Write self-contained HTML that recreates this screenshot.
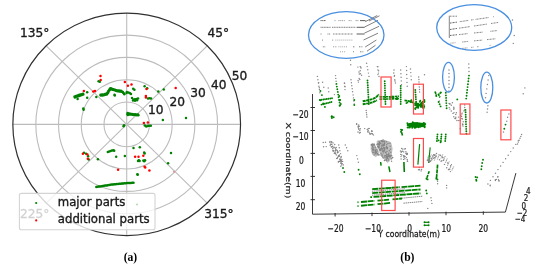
<!DOCTYPE html>
<html><head><meta charset="utf-8"><style>
html,body{margin:0;padding:0;background:#fff;width:550px;height:268px;overflow:hidden}
svg{display:block;filter:blur(0.3px)}
</style></head><body>
<svg width="550" height="268" viewBox="0 0 550 268">
<g id="polar">
<ellipse cx="126.7" cy="124.4" rx="22.72" ry="22.33" fill="none" stroke="#bcbcbc" stroke-width="1.1"/>
<ellipse cx="126.7" cy="124.4" rx="45.44" ry="44.66" fill="none" stroke="#bcbcbc" stroke-width="1.1"/>
<ellipse cx="126.7" cy="124.4" rx="68.16" ry="66.99" fill="none" stroke="#bcbcbc" stroke-width="1.1"/>
<ellipse cx="126.7" cy="124.4" rx="90.88" ry="89.32" fill="none" stroke="#bcbcbc" stroke-width="1.1"/>
<line x1="126.7" y1="124.4" x2="240.55" y2="124.40" stroke="#bcbcbc" stroke-width="1.1"/>
<line x1="126.7" y1="124.4" x2="207.20" y2="45.77" stroke="#bcbcbc" stroke-width="1.1"/>
<line x1="126.7" y1="124.4" x2="126.70" y2="13.20" stroke="#bcbcbc" stroke-width="1.1"/>
<line x1="126.7" y1="124.4" x2="46.20" y2="45.77" stroke="#bcbcbc" stroke-width="1.1"/>
<line x1="126.7" y1="124.4" x2="12.85" y2="124.40" stroke="#bcbcbc" stroke-width="1.1"/>
<line x1="126.7" y1="124.4" x2="46.20" y2="203.03" stroke="#bcbcbc" stroke-width="1.1"/>
<line x1="126.7" y1="124.4" x2="126.70" y2="235.60" stroke="#bcbcbc" stroke-width="1.1"/>
<line x1="126.7" y1="124.4" x2="207.20" y2="203.03" stroke="#bcbcbc" stroke-width="1.1"/>
<ellipse cx="126.7" cy="124.4" rx="113.85" ry="111.2" fill="none" stroke="#303030" stroke-width="1.2"/>
</g>
<g fill="#008000">
<circle cx="98.6" cy="81.2" r="1.25"/>
<circle cx="99.8" cy="81.8" r="1.25"/>
<circle cx="74.6" cy="96.6" r="1.25"/>
<circle cx="76.0" cy="96.0" r="1.25"/>
<circle cx="77.4" cy="95.6" r="1.25"/>
<circle cx="78.8" cy="95.1" r="1.25"/>
<circle cx="80.2" cy="94.6" r="1.25"/>
<circle cx="81.6" cy="94.2" r="1.25"/>
<circle cx="83.0" cy="93.7" r="1.25"/>
<circle cx="77.6" cy="99.0" r="1.25"/>
<circle cx="87.2" cy="92.2" r="1.25"/>
<circle cx="87.2" cy="97.8" r="1.25"/>
<circle cx="96.3" cy="97.0" r="1.25"/>
<circle cx="100.5" cy="94.8" r="1.25"/>
<circle cx="102.0" cy="94.6" r="1.25"/>
<circle cx="103.5" cy="94.4" r="1.25"/>
<circle cx="105.0" cy="94.0" r="1.25"/>
<circle cx="106.5" cy="93.6" r="1.25"/>
<circle cx="107.5" cy="92.5" r="1.25"/>
<circle cx="108.3" cy="90.9" r="1.25"/>
<circle cx="109.3" cy="89.5" r="1.25"/>
<circle cx="110.3" cy="88.3" r="1.25"/>
<circle cx="111.3" cy="88.5" r="1.25"/>
<circle cx="112.2" cy="88.9" r="1.25"/>
<circle cx="113.5" cy="89.3" r="1.25"/>
<circle cx="115.0" cy="89.8" r="1.25"/>
<circle cx="116.2" cy="90.2" r="1.25"/>
<circle cx="117.5" cy="90.4" r="1.25"/>
<circle cx="119.0" cy="90.6" r="1.25"/>
<circle cx="120.5" cy="90.8" r="1.25"/>
<circle cx="121.4" cy="90.9" r="1.25"/>
<circle cx="122.8" cy="92.0" r="1.25"/>
<circle cx="124.0" cy="93.5" r="1.25"/>
<circle cx="114.5" cy="94.8" r="1.25"/>
<circle cx="126.6" cy="92.9" r="1.25"/>
<circle cx="133.2" cy="88.8" r="1.25"/>
<circle cx="134.4" cy="89.8" r="1.25"/>
<circle cx="126.8" cy="92.0" r="1.25"/>
<circle cx="128.5" cy="92.5" r="1.25"/>
<circle cx="130.0" cy="93.2" r="1.25"/>
<circle cx="131.0" cy="94.0" r="1.25"/>
<circle cx="132.0" cy="98.0" r="1.25"/>
<circle cx="133.5" cy="99.5" r="1.25"/>
<circle cx="135.0" cy="99.3" r="1.25"/>
<circle cx="136.5" cy="99.0" r="1.25"/>
<circle cx="138.0" cy="98.5" r="1.25"/>
<circle cx="133.0" cy="100.5" r="1.25"/>
<circle cx="135.0" cy="100.8" r="1.25"/>
<circle cx="137.0" cy="100.2" r="1.25"/>
<circle cx="144.6" cy="86.3" r="1.25"/>
<circle cx="147.2" cy="88.3" r="1.25"/>
<circle cx="148.0" cy="98.6" r="1.25"/>
<circle cx="149.5" cy="98.2" r="1.25"/>
<circle cx="151.0" cy="98.6" r="1.25"/>
<circle cx="158.3" cy="91.5" r="1.25"/>
<circle cx="163.8" cy="89.6" r="1.25"/>
<circle cx="83.3" cy="108.6" r="1.25"/>
<circle cx="83.6" cy="109.8" r="1.25"/>
<circle cx="124.0" cy="125.2" r="1.25"/>
<circle cx="123.6" cy="126.2" r="1.25"/>
<circle cx="127.6" cy="114.2" r="1.25"/>
<circle cx="127.6" cy="113.0" r="1.25"/>
<circle cx="129.0" cy="113.6" r="1.25"/>
<circle cx="130.5" cy="113.8" r="1.25"/>
<circle cx="132.0" cy="114.0" r="1.25"/>
<circle cx="133.5" cy="114.2" r="1.25"/>
<circle cx="135.0" cy="114.2" r="1.25"/>
<circle cx="136.5" cy="114.4" r="1.25"/>
<circle cx="138.0" cy="114.5" r="1.25"/>
<circle cx="144.8" cy="125.6" r="1.25"/>
<circle cx="146.2" cy="126.4" r="1.25"/>
<circle cx="147.6" cy="126.0" r="1.25"/>
<circle cx="149.0" cy="125.8" r="1.25"/>
<circle cx="150.8" cy="125.8" r="1.25"/>
<circle cx="162.9" cy="120.0" r="1.25"/>
<circle cx="186.0" cy="118.1" r="1.25"/>
<circle cx="84.0" cy="152.8" r="1.25"/>
<circle cx="86.1" cy="153.7" r="1.25"/>
<circle cx="88.1" cy="156.3" r="1.25"/>
<circle cx="88.7" cy="159.6" r="1.25"/>
<circle cx="97.9" cy="159.3" r="1.25"/>
<circle cx="107.8" cy="152.0" r="1.25"/>
<circle cx="109.2" cy="151.4" r="1.25"/>
<circle cx="110.6" cy="151.0" r="1.25"/>
<circle cx="112.0" cy="150.6" r="1.25"/>
<circle cx="113.4" cy="150.2" r="1.25"/>
<circle cx="114.2" cy="150.8" r="1.25"/>
<circle cx="116.2" cy="156.7" r="1.25"/>
<circle cx="124.9" cy="155.9" r="1.25"/>
<circle cx="133.5" cy="148.1" r="1.25"/>
<circle cx="139.8" cy="147.2" r="1.25"/>
<circle cx="144.6" cy="153.5" r="1.25"/>
<circle cx="144.2" cy="152.6" r="1.25"/>
<circle cx="138.0" cy="161.0" r="1.25"/>
<circle cx="139.6" cy="161.0" r="1.25"/>
<circle cx="138.8" cy="160.3" r="1.25"/>
<circle cx="143.4" cy="160.5" r="1.25"/>
<circle cx="145.0" cy="160.3" r="1.25"/>
<circle cx="144.2" cy="161.2" r="1.25"/>
<circle cx="171.0" cy="153.0" r="1.25"/>
<circle cx="168.1" cy="163.2" r="1.25"/>
<circle cx="137.4" cy="174.2" r="1.25"/>
<circle cx="137.7" cy="174.8" r="1.25"/>
<circle cx="74.9" cy="97.4" r="1.25"/>
<circle cx="76.3" cy="96.8" r="1.25"/>
<circle cx="77.7" cy="96.4" r="1.25"/>
<circle cx="79.1" cy="95.9" r="1.25"/>
<circle cx="80.5" cy="95.4" r="1.25"/>
<circle cx="81.9" cy="95.0" r="1.25"/>
<circle cx="83.3" cy="94.5" r="1.25"/>
<circle cx="100.8" cy="95.6" r="1.25"/>
<circle cx="102.3" cy="95.4" r="1.25"/>
<circle cx="103.8" cy="95.2" r="1.25"/>
<circle cx="105.3" cy="94.8" r="1.25"/>
<circle cx="106.8" cy="94.4" r="1.25"/>
<circle cx="107.8" cy="93.3" r="1.25"/>
<circle cx="108.6" cy="91.7" r="1.25"/>
<circle cx="109.6" cy="90.3" r="1.25"/>
<circle cx="110.6" cy="89.1" r="1.25"/>
<circle cx="111.6" cy="89.3" r="1.25"/>
<circle cx="112.5" cy="89.7" r="1.25"/>
<circle cx="113.8" cy="90.1" r="1.25"/>
<circle cx="115.3" cy="90.6" r="1.25"/>
<circle cx="116.5" cy="91.0" r="1.25"/>
<circle cx="117.8" cy="91.2" r="1.25"/>
<circle cx="119.3" cy="91.4" r="1.25"/>
<circle cx="120.8" cy="91.6" r="1.25"/>
<circle cx="121.7" cy="91.7" r="1.25"/>
<circle cx="123.1" cy="92.8" r="1.25"/>
<circle cx="124.3" cy="94.3" r="1.25"/>
<circle cx="114.8" cy="95.6" r="1.25"/>
<circle cx="127.9" cy="115.0" r="1.25"/>
<circle cx="127.9" cy="113.8" r="1.25"/>
<circle cx="129.3" cy="114.4" r="1.25"/>
<circle cx="130.8" cy="114.6" r="1.25"/>
<circle cx="132.3" cy="114.8" r="1.25"/>
<circle cx="133.8" cy="115.0" r="1.25"/>
<circle cx="135.3" cy="115.0" r="1.25"/>
<circle cx="136.8" cy="115.2" r="1.25"/>
<circle cx="138.3" cy="115.3" r="1.25"/>
<circle cx="96.3" cy="187.0" r="1.25"/>
<circle cx="97.6" cy="186.8" r="1.25"/>
<circle cx="98.9" cy="186.6" r="1.25"/>
<circle cx="100.1" cy="186.4" r="1.25"/>
<circle cx="101.4" cy="186.2" r="1.25"/>
<circle cx="102.7" cy="185.9" r="1.25"/>
<circle cx="104.0" cy="185.7" r="1.25"/>
<circle cx="105.3" cy="185.5" r="1.25"/>
<circle cx="106.6" cy="185.4" r="1.25"/>
<circle cx="107.8" cy="185.2" r="1.25"/>
<circle cx="109.1" cy="185.0" r="1.25"/>
<circle cx="110.4" cy="184.8" r="1.25"/>
<circle cx="111.7" cy="184.6" r="1.25"/>
<circle cx="113.0" cy="184.5" r="1.25"/>
<circle cx="114.3" cy="184.3" r="1.25"/>
<circle cx="115.5" cy="184.2" r="1.25"/>
<circle cx="116.8" cy="184.0" r="1.25"/>
<circle cx="118.1" cy="183.9" r="1.25"/>
<circle cx="119.4" cy="183.8" r="1.25"/>
<circle cx="120.7" cy="183.7" r="1.25"/>
<circle cx="122.0" cy="183.5" r="1.25"/>
<circle cx="123.2" cy="183.4" r="1.25"/>
<circle cx="124.5" cy="183.3" r="1.25"/>
<circle cx="125.8" cy="183.2" r="1.25"/>
<circle cx="127.1" cy="183.1" r="1.25"/>
<circle cx="128.4" cy="183.0" r="1.25"/>
<circle cx="129.7" cy="183.0" r="1.25"/>
<circle cx="130.9" cy="182.9" r="1.25"/>
<circle cx="132.2" cy="182.8" r="1.25"/>
<circle cx="133.5" cy="182.7" r="1.25"/>
</g><g fill="#ff0000">
<circle cx="100.5" cy="76.1" r="1.25"/>
<circle cx="100.7" cy="80.1" r="1.25"/>
<circle cx="124.9" cy="82.0" r="1.25"/>
<circle cx="127.9" cy="85.7" r="1.25"/>
<circle cx="131.5" cy="84.6" r="1.25"/>
<circle cx="83.9" cy="90.9" r="1.25"/>
<circle cx="93.3" cy="91.5" r="1.25"/>
<circle cx="95.0" cy="90.9" r="1.25"/>
<circle cx="146.5" cy="88.9" r="1.25"/>
<circle cx="145.9" cy="96.1" r="1.25"/>
<circle cx="145.9" cy="97.4" r="1.25"/>
<circle cx="175.7" cy="88.0" r="1.25"/>
<circle cx="143.9" cy="123.0" r="1.25"/>
<circle cx="147.9" cy="122.6" r="1.25"/>
<circle cx="82.9" cy="153.7" r="1.25"/>
<circle cx="87.4" cy="154.4" r="1.25"/>
<circle cx="87.8" cy="158.7" r="1.25"/>
<circle cx="135.1" cy="156.7" r="1.25"/>
<circle cx="138.5" cy="156.7" r="1.25"/>
<circle cx="143.3" cy="155.7" r="1.25"/>
<circle cx="144.6" cy="166.8" r="1.25"/>
<circle cx="145.2" cy="167.4" r="1.25"/>
<circle cx="149.4" cy="170.4" r="1.25"/>
<circle cx="118.1" cy="169.8" r="1.25"/>
<circle cx="174" cy="171.7" r="0.9" fill="#f08080"/>
</g>
<text x="34.6" y="37.2" text-anchor="middle" font-size="12.2" font-family="DejaVu Sans" fill="#1a1a1a" stroke="#1a1a1a" stroke-width="0.35">135°</text>
<text x="218.4" y="37.2" text-anchor="middle" font-size="12.2" font-family="DejaVu Sans" fill="#1a1a1a" stroke="#1a1a1a" stroke-width="0.35">45°</text>
<text x="34.6" y="218.1" text-anchor="middle" font-size="12.2" font-family="DejaVu Sans" fill="#1a1a1a" stroke="#1a1a1a" stroke-width="0.35">225°</text>
<text x="219" y="218" text-anchor="middle" font-size="12.2" font-family="DejaVu Sans" fill="#1a1a1a" stroke="#1a1a1a" stroke-width="0.35">315°</text>
<text x="155.7" y="114.10" text-anchor="middle" font-size="12.2" font-family="DejaVu Sans" fill="#1a1a1a" stroke="#1a1a1a" stroke-width="0.35">10</text>
<text x="177.2" y="105.70" text-anchor="middle" font-size="12.2" font-family="DejaVu Sans" fill="#1a1a1a" stroke="#1a1a1a" stroke-width="0.35">20</text>
<text x="198" y="97.40" text-anchor="middle" font-size="12.2" font-family="DejaVu Sans" fill="#1a1a1a" stroke="#1a1a1a" stroke-width="0.35">30</text>
<text x="218.65" y="88.80" text-anchor="middle" font-size="12.2" font-family="DejaVu Sans" fill="#1a1a1a" stroke="#1a1a1a" stroke-width="0.35">40</text>
<text x="239.5" y="79.90" text-anchor="middle" font-size="12.2" font-family="DejaVu Sans" fill="#1a1a1a" stroke="#1a1a1a" stroke-width="0.35">50</text>
<rect x="19.4" y="193.4" width="135.6" height="36.4" rx="2" ry="2" fill="#fff" fill-opacity="0.8" stroke="#d4d4d4" stroke-width="1.1"/>
<circle cx="36.2" cy="203" r="1.1" fill="#008000"/><circle cx="36.2" cy="220.4" r="1.1" fill="#ff0000"/>
<text x="57.8" y="206.3" font-size="11.7" font-family="DejaVu Sans" fill="#1a1a1a" stroke="#1a1a1a" stroke-width="0.35">major parts</text>
<text x="57.8" y="223" font-size="11.7" font-family="DejaVu Sans" fill="#1a1a1a" stroke="#1a1a1a" stroke-width="0.35">additional parts</text>
<circle cx="137" cy="204.5" r="0.9" fill="#a8d8a8"/>
<text x="130.4" y="261" text-anchor="middle" font-size="11.6" font-weight="bold" font-family="Liberation Serif" fill="#000">(a)</text>
<text x="407.4" y="261.2" text-anchor="middle" font-size="11.6" font-weight="bold" font-family="Liberation Serif" fill="#000">(b)</text>
<polyline points="312.5,94 312.5,214.2 505.4,212.1 515.9,173.1" stroke="#222" stroke-width="0.9" fill="none"/>
<line x1="310.5" y1="107.5" x2="315" y2="107.5" stroke="#222" stroke-width="0.9" fill="none"/>
<line x1="310.5" y1="130.5" x2="315" y2="130.5" stroke="#222" stroke-width="0.9" fill="none"/>
<line x1="310.5" y1="153.4" x2="315" y2="153.4" stroke="#222" stroke-width="0.9" fill="none"/>
<line x1="310.5" y1="176.4" x2="315" y2="176.4" stroke="#222" stroke-width="0.9" fill="none"/>
<line x1="310.5" y1="199.7" x2="315" y2="199.7" stroke="#222" stroke-width="0.9" fill="none"/>
<line x1="335.1" y1="213.0" x2="335.1" y2="216.5" stroke="#222" stroke-width="0.9" fill="none"/>
<line x1="372" y1="212.6" x2="372" y2="216.1" stroke="#222" stroke-width="0.9" fill="none"/>
<line x1="409" y1="212.1" x2="409" y2="215.6" stroke="#222" stroke-width="0.9" fill="none"/>
<line x1="446" y1="211.7" x2="446" y2="215.2" stroke="#222" stroke-width="0.9" fill="none"/>
<line x1="483.3" y1="211.3" x2="483.3" y2="214.8" stroke="#222" stroke-width="0.9" fill="none"/>
<text transform="translate(300.6,118.3) scale(0.79,1)" text-anchor="middle" font-size="9.6" font-family="DejaVu Sans" fill="#1a1a1a" stroke="#1a1a1a" stroke-width="0.25">−20</text>
<text transform="translate(300.6,140.2) scale(0.79,1)" text-anchor="middle" font-size="9.6" font-family="DejaVu Sans" fill="#1a1a1a" stroke="#1a1a1a" stroke-width="0.25">−10</text>
<text transform="translate(301.5,163.9) scale(0.79,1)" text-anchor="middle" font-size="9.6" font-family="DejaVu Sans" fill="#1a1a1a" stroke="#1a1a1a" stroke-width="0.25">0</text>
<text transform="translate(300.6,187) scale(0.79,1)" text-anchor="middle" font-size="9.6" font-family="DejaVu Sans" fill="#1a1a1a" stroke="#1a1a1a" stroke-width="0.25">10</text>
<text transform="translate(300.6,210) scale(0.79,1)" text-anchor="middle" font-size="9.6" font-family="DejaVu Sans" fill="#1a1a1a" stroke="#1a1a1a" stroke-width="0.25">20</text>
<text transform="translate(335.6,231.9) scale(0.79,1)" text-anchor="middle" font-size="9.6" font-family="DejaVu Sans" fill="#1a1a1a" stroke="#1a1a1a" stroke-width="0.25">−20</text>
<text transform="translate(373,231.9) scale(0.79,1)" text-anchor="middle" font-size="9.6" font-family="DejaVu Sans" fill="#1a1a1a" stroke="#1a1a1a" stroke-width="0.25">−10</text>
<text transform="translate(409.7,231.9) scale(0.79,1)" text-anchor="middle" font-size="9.6" font-family="DejaVu Sans" fill="#1a1a1a" stroke="#1a1a1a" stroke-width="0.25">0</text>
<text transform="translate(446.2,231.9) scale(0.79,1)" text-anchor="middle" font-size="9.6" font-family="DejaVu Sans" fill="#1a1a1a" stroke="#1a1a1a" stroke-width="0.25">10</text>
<text transform="translate(483.2,231.9) scale(0.79,1)" text-anchor="middle" font-size="9.6" font-family="DejaVu Sans" fill="#1a1a1a" stroke="#1a1a1a" stroke-width="0.25">20</text>
<text transform="translate(285.8,122.4) scale(0.8,1) rotate(90)" font-size="9.5" textLength="76" lengthAdjust="spacingAndGlyphs" font-family="DejaVu Sans" fill="#1a1a1a" stroke="#1a1a1a" stroke-width="0.25">X coordinate(m)</text>
<text transform="translate(378.3,237.3) scale(0.82,1)" font-size="9.4" font-family="DejaVu Sans" fill="#1a1a1a" stroke="#1a1a1a" stroke-width="0.25">Y coordinate(m)</text>
<text transform="translate(528.4,193.5) scale(0.79,1)" text-anchor="middle" font-size="9.1" font-family="DejaVu Sans" fill="#1a1a1a" stroke="#1a1a1a" stroke-width="0.25">4</text>
<text transform="translate(526.1,201) scale(0.79,1)" text-anchor="middle" font-size="9.1" font-family="DejaVu Sans" fill="#1a1a1a" stroke="#1a1a1a" stroke-width="0.25">2</text>
<text transform="translate(523.7,208.5) scale(0.79,1)" text-anchor="middle" font-size="9.1" font-family="DejaVu Sans" fill="#1a1a1a" stroke="#1a1a1a" stroke-width="0.25">0</text>
<text transform="translate(522,215.8) scale(0.79,1)" text-anchor="middle" font-size="9.1" font-family="DejaVu Sans" fill="#1a1a1a" stroke="#1a1a1a" stroke-width="0.25">−2</text>
<text transform="translate(520,222.4) scale(0.79,1)" text-anchor="middle" font-size="9.1" font-family="DejaVu Sans" fill="#1a1a1a" stroke="#1a1a1a" stroke-width="0.25">−4</text>
<polygon points="377.2,141 383.9,140.2 390.6,142.4 392.1,148.4 391.3,154.4 389.9,160.4 387.6,162.5 384.6,159.6 380.9,155.9 379.4,149.9 377.2,145.4" fill="#bebebe" stroke="#bebebe" stroke-width="1" stroke-linejoin="round"/>
<polygon points="371.2,144 374.2,144.7 377.9,149.9 378.7,154.4 375.7,156.6 372.7,154.4 371.2,149.9" fill="#bebebe" stroke="#bebebe" stroke-width="1" stroke-linejoin="round"/>
<polyline points="362.7,101.3 368,100.3 372,99.2 376,97.4 379,94.3" fill="none" stroke="#008000" stroke-width="1.9" stroke-dasharray="3 0.5"/>
<polyline points="362.7,104.2 368,103.4 372.5,102.3 377,100.3" fill="none" stroke="#008000" stroke-width="1.9" stroke-dasharray="3 0.5"/>
<polyline points="379.5,96.9 390,96.7 399,96.3" fill="none" stroke="#008000" stroke-width="1.6" stroke-dasharray="2.5 0.6"/>
<polyline points="379.5,99.1 390,99 399,98.6" fill="none" stroke="#008000" stroke-width="1.6" stroke-dasharray="2.5 0.6"/>
<polyline points="404.5,100.3 409,101.2 414,102.8" fill="none" stroke="#008000" stroke-width="1.8" stroke-dasharray="3 0.5"/>
<polyline points="435,91.5 436,94 436.5,97" fill="none" stroke="#008000" stroke-width="1.7" stroke-dasharray="2.5 0.5"/>
<polyline points="441.5,92 438.5,94.5 440,97.5" fill="none" stroke="#008000" stroke-width="1.7" stroke-dasharray="2.5 0.5"/>
<line x1="320.5" y1="20.6" x2="326.0" y2="20.6" stroke="#555" stroke-width="0.95" stroke-dasharray="1.2 0.5"/>
<line x1="334.6" y1="20.6" x2="336.2" y2="20.6" stroke="#7a7a7a" stroke-width="0.95" stroke-dasharray="0.8 0.8"/>
<line x1="338.5" y1="20.6" x2="344.8" y2="20.6" stroke="#7a7a7a" stroke-width="0.95" stroke-dasharray="0.9 1"/>
<line x1="348.7" y1="20.6" x2="351.4" y2="20.6" stroke="#7a7a7a" stroke-width="0.95" stroke-dasharray="0.9 1"/>
<line x1="355.7" y1="20.6" x2="358.3" y2="20.6" stroke="#7a7a7a" stroke-width="0.95" stroke-dasharray="1 0.8"/>
<line x1="360.0" y1="20.6" x2="365.5" y2="20.6" stroke="#555" stroke-width="0.95"/>
<line x1="320.5" y1="27.3" x2="330.7" y2="27.3" stroke="#7a7a7a" stroke-width="0.95" stroke-dasharray="1.2 0.4"/>
<line x1="332.0" y1="27.3" x2="355.7" y2="27.3" stroke="#7a7a7a" stroke-width="0.95" stroke-dasharray="1.2 0.5"/>
<line x1="356.6" y1="27.3" x2="364.5" y2="27.3" stroke="#555" stroke-width="0.95"/>
<line x1="320.5" y1="34.0" x2="322.0" y2="34.0" stroke="#7a7a7a" stroke-width="0.95" stroke-dasharray="1 0.6"/>
<line x1="327.5" y1="34.0" x2="330.7" y2="34.0" stroke="#7a7a7a" stroke-width="0.95" stroke-dasharray="1 0.6"/>
<line x1="333.0" y1="34.0" x2="353.0" y2="34.0" stroke="#7a7a7a" stroke-width="0.95" stroke-dasharray="1 0.5"/>
<line x1="356.6" y1="34.0" x2="364.5" y2="34.0" stroke="#555" stroke-width="0.95"/>
<line x1="322.0" y1="40.1" x2="323.6" y2="40.1" stroke="#7a7a7a" stroke-width="0.95" stroke-dasharray="1 0.6"/>
<line x1="332.0" y1="40.1" x2="333.8" y2="40.1" stroke="#9a9a9a" stroke-width="0.95" stroke-dasharray="1 0.6"/>
<line x1="335.4" y1="40.1" x2="353.0" y2="40.1" stroke="#9a9a9a" stroke-width="0.95" stroke-dasharray="0.9 1.1"/>
<line x1="322.8" y1="46.8" x2="325.2" y2="46.8" stroke="#7a7a7a" stroke-width="0.95" stroke-dasharray="1 0.6"/>
<line x1="333.0" y1="46.8" x2="337.0" y2="46.8" stroke="#9a9a9a" stroke-width="0.95" stroke-dasharray="1 0.8"/>
<line x1="338.5" y1="46.8" x2="348.0" y2="46.8" stroke="#9a9a9a" stroke-width="0.95" stroke-dasharray="0.9 1"/>
<line x1="353.0" y1="46.8" x2="355.0" y2="46.8" stroke="#7a7a7a" stroke-width="0.95" stroke-dasharray="1 0.6"/>
<line x1="359.0" y1="46.8" x2="362.6" y2="46.8" stroke="#7a7a7a" stroke-width="0.95" stroke-dasharray="1 0.6"/>
<line x1="340.0" y1="51.8" x2="346.0" y2="51.8" stroke="#9a9a9a" stroke-width="0.95" stroke-dasharray="0.9 1.2"/>
<line x1="353.0" y1="51.8" x2="354.0" y2="51.8" stroke="#7a7a7a" stroke-width="0.95"/>
<line x1="360.0" y1="51.8" x2="363.5" y2="51.8" stroke="#7a7a7a" stroke-width="0.95" stroke-dasharray="1 0.6"/>
<line x1="365.2" y1="21.7" x2="377.2" y2="15.5" stroke="#606060" stroke-width="0.8"/>
<line x1="369.0" y1="21.0" x2="379.5" y2="15.8" stroke="#606060" stroke-width="0.8"/>
<line x1="364.3" y1="27.2" x2="378.0" y2="20.3" stroke="#606060" stroke-width="0.8"/>
<line x1="364.3" y1="33.2" x2="379.0" y2="26.3" stroke="#606060" stroke-width="0.8"/>
<line x1="363.5" y1="40.0" x2="378.0" y2="33.2" stroke="#606060" stroke-width="0.8"/>
<line x1="365.2" y1="47.0" x2="376.4" y2="40.0" stroke="#606060" stroke-width="0.8"/>
<line x1="367.0" y1="51.2" x2="375.5" y2="45.2" stroke="#606060" stroke-width="0.8"/>
<line x1="449.3" y1="15.7" x2="449.3" y2="38.0" stroke="#777" stroke-width="0.9"/>
<line x1="450.0" y1="16.2" x2="457.2" y2="16.2" stroke="#7a7a7a" stroke-width="0.95" stroke-dasharray="1 0.5"/>
<line x1="450.0" y1="23.1" x2="457.2" y2="22.1" stroke="#555" stroke-width="0.95" stroke-dasharray="1 0.5"/>
<line x1="459.8" y1="21.7" x2="468.4" y2="20.4" stroke="#7a7a7a" stroke-width="0.95" stroke-dasharray="1 0.5"/>
<line x1="471.0" y1="20.0" x2="473.5" y2="19.7" stroke="#7a7a7a" stroke-width="0.95" stroke-dasharray="1 0.5"/>
<line x1="475.6" y1="19.4" x2="488.8" y2="17.5" stroke="#7a7a7a" stroke-width="0.95" stroke-dasharray="1 0.5"/>
<line x1="493.0" y1="16.8" x2="494.5" y2="16.6" stroke="#9a9a9a" stroke-width="0.95" stroke-dasharray="1 0.5"/>
<line x1="450.0" y1="29.5" x2="457.2" y2="28.4" stroke="#555" stroke-width="0.95" stroke-dasharray="1 0.5"/>
<line x1="459.0" y1="28.2" x2="470.0" y2="26.6" stroke="#7a7a7a" stroke-width="0.95" stroke-dasharray="1 0.5"/>
<line x1="474.0" y1="26.0" x2="487.0" y2="24.1" stroke="#7a7a7a" stroke-width="0.95" stroke-dasharray="1 0.5"/>
<line x1="491.0" y1="23.5" x2="498.6" y2="22.4" stroke="#7a7a7a" stroke-width="0.95" stroke-dasharray="1 0.5"/>
<line x1="450.0" y1="35.5" x2="457.2" y2="34.7" stroke="#555" stroke-width="0.95" stroke-dasharray="1 0.5"/>
<line x1="459.0" y1="34.6" x2="468.0" y2="33.6" stroke="#7a7a7a" stroke-width="0.95" stroke-dasharray="1 0.5"/>
<line x1="474.0" y1="33.0" x2="483.0" y2="32.1" stroke="#7a7a7a" stroke-width="0.95" stroke-dasharray="1 0.5"/>
<line x1="490.4" y1="31.3" x2="497.0" y2="30.6" stroke="#7a7a7a" stroke-width="0.95" stroke-dasharray="1 0.5"/>
<line x1="450.3" y1="43.2" x2="455.5" y2="42.7" stroke="#9a9a9a" stroke-width="0.95" stroke-dasharray="1 0.5"/>
<line x1="462.3" y1="42.0" x2="468.4" y2="41.4" stroke="#7a7a7a" stroke-width="0.95" stroke-dasharray="1 0.5"/>
<line x1="474.0" y1="40.9" x2="482.2" y2="40.1" stroke="#7a7a7a" stroke-width="0.95" stroke-dasharray="1 0.5"/>
<line x1="487.0" y1="39.6" x2="495.3" y2="38.8" stroke="#7a7a7a" stroke-width="0.95" stroke-dasharray="1 0.5"/>
<line x1="462.0" y1="48.4" x2="468.0" y2="47.8" stroke="#9a9a9a" stroke-width="0.95" stroke-dasharray="1 0.5"/>
<line x1="471.0" y1="47.4" x2="474.0" y2="47.1" stroke="#9a9a9a" stroke-width="0.95" stroke-dasharray="1 0.5"/>
<line x1="477.0" y1="46.8" x2="479.0" y2="46.6" stroke="#9a9a9a" stroke-width="0.95" stroke-dasharray="1 0.5"/>
<line x1="489.6" y1="45.5" x2="491.2" y2="45.3" stroke="#9a9a9a" stroke-width="0.95" stroke-dasharray="1 0.5"/>
<line x1="380" y1="188.6" x2="400" y2="187.0" stroke="#858585" stroke-width="1.0" stroke-dasharray="1.5 0.6"/>
<line x1="372" y1="191.2" x2="405" y2="188.8" stroke="#858585" stroke-width="1.0" stroke-dasharray="1.5 0.6"/>
<line x1="372" y1="195.2" x2="405" y2="192.7" stroke="#858585" stroke-width="1.0" stroke-dasharray="1.5 0.6"/>
<line x1="402" y1="198.2" x2="422.5" y2="196.2" stroke="#858585" stroke-width="1.0" stroke-dasharray="1.5 0.6"/>
<line x1="403.4" y1="203.2" x2="422.5" y2="201.5" stroke="#858585" stroke-width="1.0" stroke-dasharray="1.5 0.6"/>
<line x1="372.2" y1="189.2" x2="399.5" y2="187.22173913043477" stroke="#008000" stroke-width="1.8" stroke-dasharray="6 0.6"/>
<line x1="401.5" y1="187.0768115942029" x2="420.5" y2="185.7" stroke="#008000" stroke-width="1.8" stroke-dasharray="6 0.6"/>
<line x1="372.2" y1="193.1" x2="420.5" y2="189.5" stroke="#008000" stroke-width="1.8" stroke-dasharray="6 0.6"/>
<line x1="370.3" y1="197.2" x2="372" y2="197.07131474103585" stroke="#008000" stroke-width="1.8" stroke-dasharray="6 0.6"/>
<line x1="373.5" y1="196.95776892430277" x2="420.5" y2="193.4" stroke="#008000" stroke-width="1.8" stroke-dasharray="6 0.6"/>
<line x1="357.5" y1="202.3" x2="358.5" y2="202.21460674157305" stroke="#008000" stroke-width="1.8" stroke-dasharray="6 0.6"/>
<line x1="361" y1="202.00112359550562" x2="374.5" y2="200.84831460674158" stroke="#008000" stroke-width="1.8" stroke-dasharray="6 0.6"/>
<line x1="377.5" y1="200.59213483146067" x2="389" y2="199.61011235955056" stroke="#008000" stroke-width="1.8" stroke-dasharray="6 0.6"/>
<line x1="392.5" y1="199.3112359550562" x2="402" y2="198.5" stroke="#008000" stroke-width="1.8" stroke-dasharray="6 0.6"/>
<line x1="357.5" y1="206.1" x2="358.5" y2="206.00332326283987" stroke="#008000" stroke-width="1.8" stroke-dasharray="6 0.6"/>
<line x1="361" y1="205.76163141993956" x2="374.5" y2="204.45649546827795" stroke="#008000" stroke-width="1.8" stroke-dasharray="6 0.6"/>
<line x1="377.5" y1="204.16646525679758" x2="390.6" y2="202.9" stroke="#008000" stroke-width="1.8" stroke-dasharray="6 0.6"/>
<line x1="380.6" y1="162" x2="381.1" y2="165.6" stroke="#008000" stroke-width="1.5"/>
<line x1="388.8" y1="166.3" x2="390" y2="172" stroke="#008000" stroke-width="1.5"/>
<line x1="403.9" y1="162" x2="404.3" y2="172" stroke="#008000" stroke-width="1.6"/>
<line x1="401.5" y1="132" x2="402.5" y2="135.5" stroke="#008000" stroke-width="1.6"/>
<line x1="437.6" y1="164.6" x2="436.4" y2="179.4" stroke="#008000" stroke-width="1.7" stroke-dasharray="4 0.8"/>
<line x1="429.2" y1="171.2" x2="426.4" y2="179.4" stroke="#008000" stroke-width="1.6" stroke-dasharray="3 1"/>
<line x1="428.7" y1="155.5" x2="426.9" y2="161" stroke="#858585" stroke-width="0.9" stroke-dasharray="1.2 0.5"/>
<line x1="431.2" y1="154.5" x2="429.4" y2="160.5" stroke="#858585" stroke-width="0.9" stroke-dasharray="1.2 0.5"/>
<line x1="433.7" y1="154" x2="431.9" y2="160" stroke="#858585" stroke-width="0.9" stroke-dasharray="1.2 0.5"/>
<line x1="436.2" y1="155" x2="434.4" y2="160.5" stroke="#858585" stroke-width="0.9" stroke-dasharray="1.2 0.5"/>
<line x1="439.2" y1="154" x2="437.4" y2="159.5" stroke="#858585" stroke-width="0.9" stroke-dasharray="1.2 0.5"/>
<line x1="442.7" y1="154.5" x2="440.9" y2="158.5" stroke="#858585" stroke-width="0.9" stroke-dasharray="1.2 0.5"/>
<line x1="445.2" y1="156" x2="443.4" y2="161" stroke="#858585" stroke-width="0.9" stroke-dasharray="1.2 0.5"/>
<line x1="447.2" y1="158.5" x2="445.4" y2="163" stroke="#858585" stroke-width="0.9" stroke-dasharray="1.2 0.5"/>
<line x1="449.2" y1="161.5" x2="447.4" y2="166" stroke="#858585" stroke-width="0.9" stroke-dasharray="1.2 0.5"/>
<line x1="451.7" y1="164" x2="449.9" y2="168.5" stroke="#858585" stroke-width="0.9" stroke-dasharray="1.2 0.5"/>
<line x1="453.7" y1="166.5" x2="451.9" y2="170.5" stroke="#858585" stroke-width="0.9" stroke-dasharray="1.2 0.5"/>
<line x1="419.6" y1="144.1" x2="417.9" y2="164.6" stroke="#008000" stroke-width="1.2"/>
<line x1="430.2" y1="147.4" x2="428.6" y2="163" stroke="#008000" stroke-width="1.1"/>
<line x1="424.5" y1="222.3" x2="428.6" y2="222.3" stroke="#008000" stroke-width="1.2"/>
<line x1="424.5" y1="225.3" x2="428.6" y2="225.3" stroke="#008000" stroke-width="1.2"/>
<ellipse cx="416" cy="125" rx="9.5" ry="2.8" fill="#008000"/>
<g fill="#858585">
<circle cx="512.5" cy="20.0" r="0.72"/>
<circle cx="514.2" cy="35.5" r="0.72"/>
<circle cx="513.3" cy="43.4" r="0.72"/>
<circle cx="317.4" cy="76.4" r="0.72"/>
<circle cx="317.9" cy="79.7" r="0.72"/>
<circle cx="318.4" cy="83.0" r="0.72"/>
<circle cx="318.9" cy="86.2" r="0.72"/>
<circle cx="319.4" cy="89.5" r="0.72"/>
<circle cx="319.9" cy="92.8" r="0.72"/>
<circle cx="335.5" cy="75.6" r="0.72"/>
<circle cx="335.8" cy="78.4" r="0.72"/>
<circle cx="336.1" cy="81.3" r="0.72"/>
<circle cx="344.5" cy="83.0" r="0.72"/>
<circle cx="344.8" cy="86.3" r="0.72"/>
<circle cx="345.0" cy="89.6" r="0.72"/>
<circle cx="351.0" cy="79.7" r="0.72"/>
<circle cx="351.4" cy="82.7" r="0.72"/>
<circle cx="351.8" cy="85.8" r="0.72"/>
<circle cx="352.2" cy="88.8" r="0.72"/>
<circle cx="352.6" cy="91.8" r="0.72"/>
<circle cx="353.1" cy="94.9" r="0.72"/>
<circle cx="353.5" cy="97.9" r="0.72"/>
<circle cx="353.9" cy="101.0" r="0.72"/>
<circle cx="354.3" cy="104.0" r="0.72"/>
<circle cx="366.6" cy="63.3" r="0.72"/>
<circle cx="367.2" cy="66.6" r="0.72"/>
<circle cx="367.8" cy="69.8" r="0.72"/>
<circle cx="368.4" cy="73.1" r="0.72"/>
<circle cx="369.0" cy="76.4" r="0.72"/>
<circle cx="377.3" cy="66.6" r="0.72"/>
<circle cx="377.9" cy="69.9" r="0.72"/>
<circle cx="378.4" cy="73.1" r="0.72"/>
<circle cx="379.0" cy="76.4" r="0.72"/>
<circle cx="393.7" cy="73.0" r="0.72"/>
<circle cx="394.3" cy="76.3" r="0.72"/>
<circle cx="394.8" cy="79.7" r="0.72"/>
<circle cx="395.4" cy="83.0" r="0.72"/>
<circle cx="394.0" cy="70.0" r="0.72"/>
<circle cx="394.5" cy="75.5" r="0.72"/>
<circle cx="395.0" cy="81.0" r="0.72"/>
<circle cx="400.7" cy="70.0" r="0.72"/>
<circle cx="400.9" cy="73.7" r="0.72"/>
<circle cx="401.1" cy="77.3" r="0.72"/>
<circle cx="401.3" cy="80.9" r="0.72"/>
<circle cx="401.5" cy="84.6" r="0.72"/>
<circle cx="406.4" cy="66.6" r="0.72"/>
<circle cx="406.6" cy="70.5" r="0.72"/>
<circle cx="406.7" cy="74.5" r="0.72"/>
<circle cx="406.9" cy="78.4" r="0.72"/>
<circle cx="407.0" cy="82.4" r="0.72"/>
<circle cx="407.2" cy="86.3" r="0.72"/>
<circle cx="410.5" cy="69.0" r="0.72"/>
<circle cx="410.8" cy="72.6" r="0.72"/>
<circle cx="411.0" cy="76.1" r="0.72"/>
<circle cx="411.3" cy="79.7" r="0.72"/>
<circle cx="418.7" cy="77.0" r="0.72"/>
<circle cx="418.9" cy="79.5" r="0.72"/>
<circle cx="419.0" cy="82.0" r="0.72"/>
<circle cx="419.1" cy="84.5" r="0.72"/>
<circle cx="419.3" cy="87.0" r="0.72"/>
<circle cx="419.5" cy="89.5" r="0.72"/>
<circle cx="419.6" cy="92.0" r="0.72"/>
<circle cx="449.0" cy="70.0" r="0.72"/>
<circle cx="449.0" cy="73.5" r="0.72"/>
<circle cx="449.0" cy="77.0" r="0.72"/>
<circle cx="449.0" cy="80.5" r="0.72"/>
<circle cx="449.0" cy="84.0" r="0.72"/>
<circle cx="449.0" cy="87.5" r="0.72"/>
<circle cx="449.0" cy="91.0" r="0.72"/>
<circle cx="468.8" cy="64.0" r="0.72"/>
<circle cx="468.9" cy="67.8" r="0.72"/>
<circle cx="469.0" cy="71.5" r="0.72"/>
<circle cx="488.7" cy="75.6" r="0.72"/>
<circle cx="488.1" cy="80.0" r="0.72"/>
<circle cx="487.4" cy="84.5" r="0.72"/>
<circle cx="486.8" cy="88.9" r="0.72"/>
<circle cx="486.1" cy="93.4" r="0.72"/>
<circle cx="485.5" cy="97.8" r="0.72"/>
<circle cx="366.2" cy="110.5" r="0.72"/>
<circle cx="366.4" cy="112.7" r="0.72"/>
<circle cx="366.7" cy="114.8" r="0.72"/>
<circle cx="366.9" cy="117.0" r="0.72"/>
<circle cx="464.7" cy="105.0" r="0.72"/>
<circle cx="464.7" cy="107.5" r="0.72"/>
<circle cx="464.7" cy="110.0" r="0.72"/>
<circle cx="487.9" cy="105.7" r="0.72"/>
<circle cx="487.5" cy="109.0" r="0.72"/>
<circle cx="487.1" cy="112.3" r="0.72"/>
<circle cx="521.6" cy="134.5" r="0.72"/>
<circle cx="520.8" cy="136.4" r="0.72"/>
<circle cx="520.0" cy="138.3" r="0.72"/>
<circle cx="519.1" cy="140.2" r="0.72"/>
<circle cx="518.3" cy="142.1" r="0.72"/>
<circle cx="517.5" cy="144.0" r="0.72"/>
<circle cx="390.0" cy="143.3" r="0.72"/>
<circle cx="390.3" cy="146.3" r="0.72"/>
<circle cx="390.5" cy="149.3" r="0.72"/>
<circle cx="390.8" cy="152.3" r="0.72"/>
<circle cx="391.1" cy="155.3" r="0.72"/>
<circle cx="391.3" cy="158.3" r="0.72"/>
<circle cx="391.6" cy="161.3" r="0.72"/>
<circle cx="518.3" cy="140.8" r="0.72"/>
<circle cx="515.8" cy="144.4" r="0.72"/>
<circle cx="513.2" cy="148.0" r="0.72"/>
<circle cx="510.7" cy="151.6" r="0.72"/>
<circle cx="508.2" cy="155.2" r="0.72"/>
<circle cx="505.6" cy="158.8" r="0.72"/>
<circle cx="503.1" cy="162.4" r="0.72"/>
<circle cx="500.6" cy="166.0" r="0.72"/>
<circle cx="498.0" cy="169.6" r="0.72"/>
<circle cx="495.5" cy="173.2" r="0.72"/>
<circle cx="493.0" cy="176.8" r="0.72"/>
<circle cx="490.4" cy="180.4" r="0.72"/>
<circle cx="487.9" cy="184.0" r="0.72"/>
<circle cx="437.6" cy="181.3" r="0.72"/>
<circle cx="437.6" cy="183.7" r="0.72"/>
<circle cx="446.6" cy="185.4" r="0.72"/>
<circle cx="446.6" cy="187.9" r="0.72"/>
<circle cx="431.0" cy="197.7" r="0.72"/>
<circle cx="431.4" cy="200.6" r="0.72"/>
<circle cx="431.9" cy="203.4" r="0.72"/>
<circle cx="338.7" cy="145.0" r="0.72"/>
<circle cx="339.3" cy="147.8" r="0.72"/>
<circle cx="339.9" cy="150.7" r="0.72"/>
<circle cx="340.6" cy="153.6" r="0.72"/>
<circle cx="341.2" cy="156.4" r="0.72"/>
<circle cx="345.3" cy="145.0" r="0.72"/>
<circle cx="346.6" cy="147.8" r="0.72"/>
<circle cx="347.8" cy="150.7" r="0.72"/>
<circle cx="356.8" cy="155.6" r="0.72"/>
<circle cx="357.6" cy="158.9" r="0.72"/>
<circle cx="358.4" cy="162.2" r="0.72"/>
<circle cx="350.5" cy="60.2" r="0.72"/>
<circle cx="350.7" cy="64.8" r="0.72"/>
<circle cx="424.5" cy="74.8" r="0.72"/>
<circle cx="524.9" cy="87.9" r="0.72"/>
<circle cx="523.2" cy="93.7" r="0.72"/>
<circle cx="452.4" cy="102.7" r="0.72"/>
<circle cx="439.3" cy="101.0" r="0.72"/>
<circle cx="508.9" cy="114.0" r="0.72"/>
<circle cx="507.6" cy="117.2" r="0.72"/>
<circle cx="506.8" cy="121.3" r="0.72"/>
<circle cx="503.5" cy="132.0" r="0.72"/>
<circle cx="427.8" cy="208.4" r="0.72"/>
<circle cx="318.7" cy="82.8" r="0.72"/>
<circle cx="322.6" cy="82.2" r="0.72"/>
<circle cx="319.3" cy="87.8" r="0.72"/>
<circle cx="323.8" cy="87.3" r="0.72"/>
<circle cx="328.2" cy="88.0" r="0.72"/>
<circle cx="328.8" cy="91.8" r="0.72"/>
<circle cx="344.5" cy="83.4" r="0.72"/>
<circle cx="345.0" cy="86.7" r="0.72"/>
<circle cx="334.4" cy="94.6" r="0.72"/>
<circle cx="359.0" cy="72.0" r="0.72"/>
<circle cx="361.0" cy="68.0" r="0.72"/>
<circle cx="361.6" cy="75.2" r="0.72"/>
<circle cx="377.9" cy="66.8" r="0.72"/>
<circle cx="378.6" cy="70.7" r="0.72"/>
<circle cx="377.9" cy="74.6" r="0.72"/>
<circle cx="358.1" cy="80.5" r="0.72"/>
<circle cx="360.2" cy="70.8" r="0.72"/>
<circle cx="359.3" cy="74.0" r="0.72"/>
<circle cx="359.8" cy="79.5" r="0.72"/>
<circle cx="357.9" cy="67.1" r="0.72"/>
<circle cx="360.4" cy="73.7" r="0.72"/>
<circle cx="360.2" cy="66.6" r="0.72"/>
<circle cx="359.1" cy="78.4" r="0.72"/>
<circle cx="358.4" cy="82.1" r="0.72"/>
<circle cx="360.7" cy="67.1" r="0.72"/>
<circle cx="360.3" cy="132.5" r="0.72"/>
<circle cx="356.7" cy="124.3" r="0.72"/>
<circle cx="359.8" cy="130.5" r="0.72"/>
<circle cx="359.2" cy="126.4" r="0.72"/>
<circle cx="358.9" cy="129.3" r="0.72"/>
<circle cx="358.8" cy="125.0" r="0.72"/>
<circle cx="358.2" cy="127.2" r="0.72"/>
<circle cx="359.4" cy="133.0" r="0.72"/>
<circle cx="360.3" cy="128.7" r="0.72"/>
<circle cx="358.3" cy="126.0" r="0.72"/>
<circle cx="356.6" cy="123.8" r="0.72"/>
<circle cx="358.4" cy="126.5" r="0.72"/>
<circle cx="358.0" cy="132.0" r="0.72"/>
<circle cx="358.6" cy="128.8" r="0.72"/>
<circle cx="367.3" cy="129.4" r="0.72"/>
<circle cx="368.2" cy="130.6" r="0.72"/>
<circle cx="371.7" cy="130.9" r="0.72"/>
<circle cx="364.7" cy="128.6" r="0.72"/>
<circle cx="368.3" cy="128.7" r="0.72"/>
<circle cx="373.5" cy="134.9" r="0.72"/>
<circle cx="372.3" cy="133.7" r="0.72"/>
<circle cx="371.6" cy="131.3" r="0.72"/>
<circle cx="369.6" cy="133.3" r="0.72"/>
<circle cx="369.0" cy="132.1" r="0.72"/>
<circle cx="372.1" cy="131.3" r="0.72"/>
<circle cx="371.3" cy="133.5" r="0.72"/>
<circle cx="369.2" cy="128.4" r="0.72"/>
<circle cx="372.5" cy="133.9" r="0.72"/>
<circle cx="370.2" cy="134.0" r="0.72"/>
<circle cx="370.1" cy="134.1" r="0.72"/>
<circle cx="367.8" cy="131.3" r="0.72"/>
<circle cx="367.9" cy="132.1" r="0.72"/>
<circle cx="381.3" cy="141.3" r="0.72"/>
<circle cx="382.9" cy="141.5" r="0.72"/>
<circle cx="379.7" cy="142.2" r="0.72"/>
<circle cx="388.0" cy="143.4" r="0.72"/>
<circle cx="386.5" cy="141.7" r="0.72"/>
<circle cx="384.3" cy="141.8" r="0.72"/>
<circle cx="323.2" cy="142.5" r="0.72"/>
<circle cx="325.5" cy="142.3" r="0.72"/>
<circle cx="323.6" cy="146.8" r="0.72"/>
<circle cx="326.2" cy="146.6" r="0.72"/>
<circle cx="338.8" cy="161.4" r="0.72"/>
<circle cx="337.4" cy="152.7" r="0.72"/>
<circle cx="330.0" cy="141.5" r="0.72"/>
<circle cx="335.2" cy="153.3" r="0.72"/>
<circle cx="334.0" cy="150.9" r="0.72"/>
<circle cx="332.7" cy="148.5" r="0.72"/>
<circle cx="339.7" cy="159.1" r="0.72"/>
<circle cx="336.4" cy="154.9" r="0.72"/>
<circle cx="332.8" cy="146.1" r="0.72"/>
<circle cx="341.2" cy="160.6" r="0.72"/>
<circle cx="339.5" cy="161.4" r="0.72"/>
<circle cx="341.4" cy="161.7" r="0.72"/>
<circle cx="330.6" cy="144.1" r="0.72"/>
<circle cx="340.5" cy="161.0" r="0.72"/>
<circle cx="333.0" cy="142.9" r="0.72"/>
<circle cx="339.1" cy="156.5" r="0.72"/>
<circle cx="341.7" cy="164.9" r="0.72"/>
<circle cx="332.5" cy="146.5" r="0.72"/>
<circle cx="333.2" cy="150.9" r="0.72"/>
<circle cx="341.5" cy="163.7" r="0.72"/>
<circle cx="337.6" cy="157.5" r="0.72"/>
<circle cx="338.4" cy="162.0" r="0.72"/>
<circle cx="331.6" cy="141.6" r="0.72"/>
<circle cx="338.7" cy="155.7" r="0.72"/>
<circle cx="339.4" cy="155.0" r="0.72"/>
<circle cx="341.1" cy="163.0" r="0.72"/>
<circle cx="331.4" cy="144.4" r="0.72"/>
<circle cx="335.6" cy="148.3" r="0.72"/>
<circle cx="337.9" cy="152.4" r="0.72"/>
<circle cx="331.7" cy="147.1" r="0.72"/>
<circle cx="341.0" cy="157.5" r="0.72"/>
<circle cx="341.9" cy="159.5" r="0.72"/>
<circle cx="333.0" cy="150.2" r="0.72"/>
<circle cx="338.9" cy="156.1" r="0.72"/>
<circle cx="335.6" cy="150.3" r="0.72"/>
<circle cx="330.2" cy="145.3" r="0.72"/>
<circle cx="331.7" cy="142.4" r="0.72"/>
<circle cx="340.0" cy="159.4" r="0.72"/>
<circle cx="343.4" cy="164.9" r="0.72"/>
<circle cx="340.8" cy="166.2" r="0.72"/>
<circle cx="337.1" cy="158.5" r="0.72"/>
<circle cx="334.7" cy="152.9" r="0.72"/>
<circle cx="340.1" cy="160.9" r="0.72"/>
<circle cx="335.5" cy="153.2" r="0.72"/>
<circle cx="337.2" cy="150.5" r="0.72"/>
<circle cx="340.5" cy="159.2" r="0.72"/>
<circle cx="335.4" cy="153.8" r="0.72"/>
<circle cx="334.7" cy="144.5" r="0.72"/>
<circle cx="331.8" cy="144.4" r="0.72"/>
<circle cx="336.0" cy="149.6" r="0.72"/>
<circle cx="334.3" cy="153.2" r="0.72"/>
<circle cx="334.1" cy="147.3" r="0.72"/>
<circle cx="340.7" cy="163.1" r="0.72"/>
<circle cx="334.0" cy="147.8" r="0.72"/>
<circle cx="337.8" cy="152.3" r="0.72"/>
<circle cx="336.0" cy="150.1" r="0.72"/>
<circle cx="341.0" cy="160.7" r="0.72"/>
<circle cx="336.6" cy="158.4" r="0.72"/>
<circle cx="342.2" cy="163.8" r="0.72"/>
<circle cx="338.6" cy="155.7" r="0.72"/>
<circle cx="335.5" cy="151.0" r="0.72"/>
<circle cx="338.4" cy="161.7" r="0.72"/>
<circle cx="336.2" cy="147.4" r="0.72"/>
<circle cx="337.8" cy="151.4" r="0.72"/>
<circle cx="329.9" cy="142.5" r="0.72"/>
<circle cx="331.1" cy="144.4" r="0.72"/>
<circle cx="333.2" cy="151.0" r="0.72"/>
<circle cx="342.6" cy="161.4" r="0.72"/>
<circle cx="331.2" cy="146.8" r="0.72"/>
<circle cx="338.3" cy="156.2" r="0.72"/>
<circle cx="375.2" cy="147.2" r="0.72"/>
<circle cx="377.2" cy="151.0" r="0.72"/>
<circle cx="375.3" cy="150.2" r="0.72"/>
<circle cx="372.3" cy="144.7" r="0.72"/>
<circle cx="372.5" cy="144.3" r="0.72"/>
<circle cx="374.2" cy="144.1" r="0.72"/>
<circle cx="372.6" cy="149.7" r="0.72"/>
<circle cx="373.9" cy="145.0" r="0.72"/>
<circle cx="373.1" cy="152.4" r="0.72"/>
<circle cx="375.4" cy="150.7" r="0.72"/>
<circle cx="379.0" cy="154.8" r="0.72"/>
<circle cx="377.3" cy="153.9" r="0.72"/>
<circle cx="374.5" cy="145.0" r="0.72"/>
<circle cx="372.1" cy="148.3" r="0.72"/>
<circle cx="372.5" cy="146.3" r="0.72"/>
<circle cx="375.8" cy="151.4" r="0.72"/>
<circle cx="376.8" cy="149.7" r="0.72"/>
<circle cx="373.7" cy="144.1" r="0.72"/>
<circle cx="375.7" cy="152.0" r="0.72"/>
<circle cx="373.2" cy="147.9" r="0.72"/>
<circle cx="375.2" cy="149.1" r="0.72"/>
<circle cx="375.1" cy="153.9" r="0.72"/>
<circle cx="372.9" cy="147.1" r="0.72"/>
<circle cx="372.9" cy="151.0" r="0.72"/>
<circle cx="376.6" cy="152.3" r="0.72"/>
<circle cx="378.7" cy="155.0" r="0.72"/>
<circle cx="372.9" cy="149.5" r="0.72"/>
<circle cx="372.8" cy="145.8" r="0.72"/>
<circle cx="371.4" cy="144.8" r="0.72"/>
<circle cx="375.5" cy="153.3" r="0.72"/>
<circle cx="377.2" cy="154.1" r="0.72"/>
<circle cx="375.0" cy="152.5" r="0.72"/>
<circle cx="375.1" cy="150.9" r="0.72"/>
<circle cx="374.1" cy="154.9" r="0.72"/>
<circle cx="373.6" cy="150.0" r="0.72"/>
<circle cx="371.4" cy="145.1" r="0.72"/>
<circle cx="373.0" cy="152.7" r="0.72"/>
<circle cx="377.1" cy="153.4" r="0.72"/>
<circle cx="373.2" cy="149.0" r="0.72"/>
<circle cx="372.3" cy="144.2" r="0.72"/>
<circle cx="378.3" cy="147.1" r="0.72"/>
<circle cx="379.5" cy="144.2" r="0.72"/>
<circle cx="382.8" cy="141.6" r="0.72"/>
<circle cx="391.4" cy="158.9" r="0.72"/>
<circle cx="386.1" cy="153.0" r="0.72"/>
<circle cx="384.1" cy="149.6" r="0.72"/>
<circle cx="379.0" cy="145.9" r="0.72"/>
<circle cx="383.0" cy="141.7" r="0.72"/>
<circle cx="382.1" cy="140.5" r="0.72"/>
<circle cx="380.4" cy="150.3" r="0.72"/>
<circle cx="386.6" cy="146.7" r="0.72"/>
<circle cx="378.3" cy="147.8" r="0.72"/>
<circle cx="379.6" cy="142.7" r="0.72"/>
<circle cx="382.1" cy="148.8" r="0.72"/>
<circle cx="381.5" cy="148.2" r="0.72"/>
<circle cx="383.3" cy="151.0" r="0.72"/>
<circle cx="387.4" cy="158.4" r="0.72"/>
<circle cx="384.8" cy="142.0" r="0.72"/>
<circle cx="388.6" cy="158.9" r="0.72"/>
<circle cx="378.1" cy="146.4" r="0.72"/>
<circle cx="383.3" cy="152.9" r="0.72"/>
<circle cx="389.7" cy="156.9" r="0.72"/>
<circle cx="380.1" cy="149.2" r="0.72"/>
<circle cx="379.1" cy="144.6" r="0.72"/>
<circle cx="379.3" cy="143.6" r="0.72"/>
<circle cx="382.7" cy="156.1" r="0.72"/>
<circle cx="387.6" cy="157.0" r="0.72"/>
<circle cx="384.6" cy="143.4" r="0.72"/>
<circle cx="384.7" cy="151.1" r="0.72"/>
<circle cx="377.4" cy="143.9" r="0.72"/>
<circle cx="382.9" cy="151.4" r="0.72"/>
<circle cx="384.1" cy="144.2" r="0.72"/>
<circle cx="381.4" cy="140.6" r="0.72"/>
<circle cx="383.0" cy="145.8" r="0.72"/>
<circle cx="380.7" cy="149.4" r="0.72"/>
<circle cx="390.7" cy="156.7" r="0.72"/>
<circle cx="386.3" cy="147.2" r="0.72"/>
<circle cx="382.1" cy="155.4" r="0.72"/>
<circle cx="379.6" cy="145.9" r="0.72"/>
<circle cx="386.7" cy="144.8" r="0.72"/>
<circle cx="388.2" cy="154.9" r="0.72"/>
<circle cx="382.1" cy="144.0" r="0.72"/>
<circle cx="382.8" cy="145.1" r="0.72"/>
<circle cx="384.7" cy="149.2" r="0.72"/>
<circle cx="387.0" cy="151.4" r="0.72"/>
<circle cx="384.2" cy="141.2" r="0.72"/>
<circle cx="380.8" cy="143.1" r="0.72"/>
<circle cx="380.7" cy="149.0" r="0.72"/>
<circle cx="382.9" cy="151.4" r="0.72"/>
<circle cx="392.4" cy="157.9" r="0.72"/>
<circle cx="383.1" cy="139.9" r="0.72"/>
<circle cx="382.9" cy="148.6" r="0.72"/>
<circle cx="387.9" cy="154.6" r="0.72"/>
<circle cx="392.7" cy="157.4" r="0.72"/>
<circle cx="389.9" cy="155.8" r="0.72"/>
<circle cx="391.7" cy="155.8" r="0.72"/>
<circle cx="386.6" cy="160.3" r="0.72"/>
<circle cx="388.3" cy="160.1" r="0.72"/>
<circle cx="377.8" cy="146.2" r="0.72"/>
<circle cx="387.4" cy="147.8" r="0.72"/>
<circle cx="385.5" cy="152.5" r="0.72"/>
<circle cx="387.1" cy="148.7" r="0.72"/>
<circle cx="380.4" cy="143.6" r="0.72"/>
<circle cx="387.1" cy="148.2" r="0.72"/>
<circle cx="382.1" cy="150.2" r="0.72"/>
<circle cx="386.7" cy="154.5" r="0.72"/>
<circle cx="384.7" cy="147.9" r="0.72"/>
<circle cx="384.5" cy="144.1" r="0.72"/>
<circle cx="387.2" cy="148.0" r="0.72"/>
<circle cx="384.8" cy="155.6" r="0.72"/>
<circle cx="389.4" cy="150.8" r="0.72"/>
<circle cx="383.8" cy="147.7" r="0.72"/>
<circle cx="377.0" cy="144.6" r="0.72"/>
<circle cx="386.8" cy="155.4" r="0.72"/>
<circle cx="388.8" cy="153.2" r="0.72"/>
<circle cx="381.9" cy="145.5" r="0.72"/>
<circle cx="385.5" cy="155.7" r="0.72"/>
<circle cx="379.1" cy="141.6" r="0.72"/>
<circle cx="386.2" cy="159.2" r="0.72"/>
<circle cx="384.4" cy="160.5" r="0.72"/>
<circle cx="383.7" cy="144.5" r="0.72"/>
<circle cx="381.0" cy="153.2" r="0.72"/>
<circle cx="379.7" cy="149.7" r="0.72"/>
<circle cx="387.5" cy="157.2" r="0.72"/>
<circle cx="381.9" cy="154.6" r="0.72"/>
<circle cx="388.7" cy="155.1" r="0.72"/>
<circle cx="390.1" cy="155.9" r="0.72"/>
<circle cx="379.6" cy="149.8" r="0.72"/>
<circle cx="389.2" cy="156.4" r="0.72"/>
<circle cx="381.7" cy="147.0" r="0.72"/>
<circle cx="386.1" cy="157.7" r="0.72"/>
<circle cx="386.6" cy="159.7" r="0.72"/>
<circle cx="386.5" cy="157.0" r="0.72"/>
<circle cx="383.8" cy="147.6" r="0.72"/>
<circle cx="384.2" cy="150.4" r="0.72"/>
<circle cx="389.4" cy="156.0" r="0.72"/>
<circle cx="378.7" cy="143.2" r="0.72"/>
<circle cx="383.1" cy="145.8" r="0.72"/>
<circle cx="378.4" cy="144.5" r="0.72"/>
<circle cx="384.2" cy="145.4" r="0.72"/>
<circle cx="387.2" cy="156.3" r="0.72"/>
<circle cx="379.3" cy="147.8" r="0.72"/>
<circle cx="384.8" cy="148.3" r="0.72"/>
<circle cx="386.3" cy="160.5" r="0.72"/>
<circle cx="388.8" cy="154.2" r="0.72"/>
<circle cx="386.5" cy="156.8" r="0.72"/>
<circle cx="388.5" cy="156.3" r="0.72"/>
<circle cx="384.6" cy="157.0" r="0.72"/>
<circle cx="382.2" cy="149.0" r="0.72"/>
<circle cx="383.0" cy="157.7" r="0.72"/>
<circle cx="455.7" cy="114.4" r="0.72"/>
<circle cx="449.2" cy="107.6" r="0.72"/>
<circle cx="449.1" cy="103.5" r="0.72"/>
<circle cx="462.7" cy="124.5" r="0.72"/>
<circle cx="455.8" cy="117.3" r="0.72"/>
<circle cx="450.1" cy="104.0" r="0.72"/>
<circle cx="458.5" cy="120.6" r="0.72"/>
<circle cx="460.1" cy="120.4" r="0.72"/>
<circle cx="453.9" cy="108.3" r="0.72"/>
<circle cx="453.8" cy="116.8" r="0.72"/>
<circle cx="455.6" cy="118.5" r="0.72"/>
<circle cx="453.0" cy="113.4" r="0.72"/>
<circle cx="451.3" cy="105.3" r="0.72"/>
<circle cx="456.9" cy="120.5" r="0.72"/>
<circle cx="456.4" cy="112.7" r="0.72"/>
<circle cx="453.8" cy="109.2" r="0.72"/>
<circle cx="451.3" cy="111.0" r="0.72"/>
<circle cx="449.9" cy="109.1" r="0.72"/>
<circle cx="462.6" cy="124.0" r="0.72"/>
<circle cx="454.0" cy="112.6" r="0.72"/>
<circle cx="449.6" cy="103.7" r="0.72"/>
<circle cx="462.7" cy="124.8" r="0.72"/>
<circle cx="458.5" cy="117.1" r="0.72"/>
<circle cx="454.9" cy="118.5" r="0.72"/>
<circle cx="453.8" cy="107.2" r="0.72"/>
<circle cx="461.8" cy="118.4" r="0.72"/>
<circle cx="461.8" cy="114.0" r="0.72"/>
<circle cx="463.0" cy="126.1" r="0.72"/>
<circle cx="462.2" cy="113.1" r="0.72"/>
<circle cx="461.6" cy="116.4" r="0.72"/>
<circle cx="460.2" cy="128.7" r="0.72"/>
<circle cx="463.9" cy="110.9" r="0.72"/>
<circle cx="463.2" cy="121.8" r="0.72"/>
<circle cx="460.9" cy="115.6" r="0.72"/>
<circle cx="462.3" cy="119.0" r="0.72"/>
<circle cx="403.7" cy="155.6" r="0.72"/>
<circle cx="407.0" cy="154.4" r="0.72"/>
<circle cx="404.1" cy="156.0" r="0.72"/>
<circle cx="401.8" cy="155.0" r="0.72"/>
<circle cx="404.9" cy="158.7" r="0.72"/>
<circle cx="401.2" cy="152.2" r="0.72"/>
<circle cx="401.1" cy="159.0" r="0.72"/>
<circle cx="405.4" cy="148.8" r="0.72"/>
<circle cx="407.4" cy="161.0" r="0.72"/>
<circle cx="405.1" cy="156.4" r="0.72"/>
<circle cx="401.6" cy="148.4" r="0.72"/>
<circle cx="404.2" cy="149.0" r="0.72"/>
<circle cx="401.8" cy="151.4" r="0.72"/>
<circle cx="400.7" cy="154.4" r="0.72"/>
<circle cx="403.6" cy="159.4" r="0.72"/>
<circle cx="404.1" cy="156.7" r="0.72"/>
<circle cx="404.0" cy="157.0" r="0.72"/>
<circle cx="403.7" cy="151.9" r="0.72"/>
<circle cx="407.5" cy="161.4" r="0.72"/>
<circle cx="406.4" cy="157.6" r="0.72"/>
<circle cx="402.7" cy="151.3" r="0.72"/>
<circle cx="402.5" cy="149.1" r="0.72"/>
<circle cx="405.9" cy="153.5" r="0.72"/>
<circle cx="406.4" cy="153.3" r="0.72"/>
<circle cx="407.2" cy="159.5" r="0.72"/>
<circle cx="400.5" cy="151.0" r="0.72"/>
<circle cx="406.9" cy="154.5" r="0.72"/>
<circle cx="407.4" cy="153.5" r="0.72"/>
<circle cx="401.0" cy="156.6" r="0.72"/>
<circle cx="405.9" cy="151.8" r="0.72"/>
<circle cx="433.6" cy="158.2" r="0.72"/>
<circle cx="434.7" cy="155.1" r="0.72"/>
<circle cx="427.7" cy="160.5" r="0.72"/>
<circle cx="431.6" cy="160.1" r="0.72"/>
<circle cx="436.0" cy="156.5" r="0.72"/>
<circle cx="434.6" cy="157.6" r="0.72"/>
<circle cx="429.3" cy="159.8" r="0.72"/>
<circle cx="430.5" cy="161.3" r="0.72"/>
<circle cx="429.1" cy="161.7" r="0.72"/>
<circle cx="429.0" cy="161.1" r="0.72"/>
<circle cx="431.5" cy="158.3" r="0.72"/>
<circle cx="436.5" cy="153.5" r="0.72"/>
<circle cx="429.4" cy="162.0" r="0.72"/>
<circle cx="432.8" cy="156.0" r="0.72"/>
<circle cx="440.1" cy="155.6" r="0.72"/>
<circle cx="428.9" cy="159.9" r="0.72"/>
<circle cx="429.0" cy="159.4" r="0.72"/>
<circle cx="434.2" cy="155.5" r="0.72"/>
<circle cx="434.9" cy="154.6" r="0.72"/>
<circle cx="430.4" cy="160.9" r="0.72"/>
<circle cx="441.9" cy="160.7" r="0.72"/>
<circle cx="446.7" cy="167.8" r="0.72"/>
<circle cx="443.0" cy="157.8" r="0.72"/>
<circle cx="442.5" cy="157.2" r="0.72"/>
<circle cx="450.6" cy="165.7" r="0.72"/>
<circle cx="447.6" cy="163.0" r="0.72"/>
<circle cx="443.5" cy="160.2" r="0.72"/>
<circle cx="449.8" cy="169.2" r="0.72"/>
<circle cx="440.5" cy="155.3" r="0.72"/>
<circle cx="439.5" cy="159.7" r="0.72"/>
<circle cx="448.5" cy="169.5" r="0.72"/>
<circle cx="449.0" cy="169.5" r="0.72"/>
<circle cx="450.4" cy="171.6" r="0.72"/>
<circle cx="441.1" cy="161.3" r="0.72"/>
<circle cx="444.5" cy="164.4" r="0.72"/>
<circle cx="418.5" cy="169.7" r="0.72"/>
<circle cx="421.1" cy="170.9" r="0.72"/>
<circle cx="419.3" cy="167.6" r="0.72"/>
<circle cx="421.5" cy="169.5" r="0.72"/>
<circle cx="419.5" cy="169.7" r="0.72"/>
<circle cx="497.7" cy="176.9" r="0.72"/>
<circle cx="495.4" cy="179.8" r="0.72"/>
<circle cx="497.9" cy="176.7" r="0.72"/>
<circle cx="498.5" cy="179.8" r="0.72"/>
<circle cx="499.1" cy="181.0" r="0.72"/>
<circle cx="490.2" cy="185.7" r="0.72"/>
<circle cx="495.4" cy="180.5" r="0.72"/>
<circle cx="490.2" cy="185.1" r="0.72"/>
<circle cx="498.8" cy="180.6" r="0.72"/>
<circle cx="496.3" cy="179.4" r="0.72"/>
</g><g fill="#008000">
<circle cx="336.4" cy="83.9" r="0.95"/>
<circle cx="336.8" cy="86.6" r="0.95"/>
<circle cx="337.3" cy="89.2" r="0.95"/>
<circle cx="337.8" cy="91.9" r="0.95"/>
<circle cx="338.2" cy="94.6" r="0.95"/>
<circle cx="338.6" cy="97.2" r="0.95"/>
<circle cx="339.1" cy="99.9" r="0.95"/>
<circle cx="339.6" cy="102.5" r="0.95"/>
<circle cx="340.0" cy="105.2" r="0.95"/>
<circle cx="339.3" cy="96.0" r="0.95"/>
<circle cx="340.1" cy="100.0" r="0.95"/>
<circle cx="340.8" cy="104.0" r="0.95"/>
<circle cx="319.8" cy="100.0" r="0.95"/>
<circle cx="321.5" cy="99.8" r="0.95"/>
<circle cx="323.3" cy="99.5" r="0.95"/>
<circle cx="325.0" cy="99.3" r="0.95"/>
<circle cx="326.8" cy="99.0" r="0.95"/>
<circle cx="328.5" cy="98.8" r="0.95"/>
<circle cx="330.3" cy="98.5" r="0.95"/>
<circle cx="332.0" cy="98.3" r="0.95"/>
<circle cx="321.5" cy="104.6" r="0.95"/>
<circle cx="323.1" cy="104.2" r="0.95"/>
<circle cx="324.8" cy="103.7" r="0.95"/>
<circle cx="326.4" cy="103.3" r="0.95"/>
<circle cx="328.1" cy="102.9" r="0.95"/>
<circle cx="329.8" cy="102.4" r="0.95"/>
<circle cx="331.4" cy="102.0" r="0.95"/>
<circle cx="367.5" cy="80.5" r="0.95"/>
<circle cx="367.6" cy="82.8" r="0.95"/>
<circle cx="367.8" cy="85.2" r="0.95"/>
<circle cx="367.9" cy="87.5" r="0.95"/>
<circle cx="368.0" cy="89.9" r="0.95"/>
<circle cx="368.1" cy="92.2" r="0.95"/>
<circle cx="368.3" cy="94.6" r="0.95"/>
<circle cx="368.4" cy="97.0" r="0.95"/>
<circle cx="368.5" cy="99.3" r="0.95"/>
<circle cx="368.7" cy="101.7" r="0.95"/>
<circle cx="368.8" cy="104.0" r="0.95"/>
<circle cx="384.7" cy="81.3" r="0.95"/>
<circle cx="384.8" cy="83.6" r="0.95"/>
<circle cx="384.9" cy="85.8" r="0.95"/>
<circle cx="384.9" cy="88.1" r="0.95"/>
<circle cx="385.0" cy="90.4" r="0.95"/>
<circle cx="385.1" cy="92.7" r="0.95"/>
<circle cx="385.2" cy="94.9" r="0.95"/>
<circle cx="385.3" cy="97.2" r="0.95"/>
<circle cx="385.3" cy="99.5" r="0.95"/>
<circle cx="385.4" cy="101.7" r="0.95"/>
<circle cx="385.5" cy="104.0" r="0.95"/>
<circle cx="400.7" cy="86.0" r="0.95"/>
<circle cx="400.7" cy="88.2" r="0.95"/>
<circle cx="400.7" cy="90.5" r="0.95"/>
<circle cx="400.7" cy="92.8" r="0.95"/>
<circle cx="400.7" cy="95.0" r="0.95"/>
<circle cx="400.7" cy="97.2" r="0.95"/>
<circle cx="400.7" cy="99.5" r="0.95"/>
<circle cx="400.7" cy="101.8" r="0.95"/>
<circle cx="400.7" cy="104.0" r="0.95"/>
<circle cx="415.3" cy="90.0" r="0.95"/>
<circle cx="415.4" cy="92.3" r="0.95"/>
<circle cx="415.6" cy="94.7" r="0.95"/>
<circle cx="415.8" cy="97.0" r="0.95"/>
<circle cx="415.9" cy="99.3" r="0.95"/>
<circle cx="416.1" cy="101.7" r="0.95"/>
<circle cx="416.2" cy="104.0" r="0.95"/>
<circle cx="445.8" cy="92.8" r="0.95"/>
<circle cx="445.9" cy="95.4" r="0.95"/>
<circle cx="446.1" cy="97.9" r="0.95"/>
<circle cx="446.2" cy="100.5" r="0.95"/>
<circle cx="446.3" cy="103.1" r="0.95"/>
<circle cx="446.5" cy="105.6" r="0.95"/>
<circle cx="446.6" cy="108.2" r="0.95"/>
<circle cx="469.0" cy="75.6" r="0.95"/>
<circle cx="468.6" cy="78.5" r="0.95"/>
<circle cx="468.3" cy="81.3" r="0.95"/>
<circle cx="467.9" cy="84.2" r="0.95"/>
<circle cx="467.6" cy="87.1" r="0.95"/>
<circle cx="467.2" cy="90.0" r="0.95"/>
<circle cx="466.9" cy="92.8" r="0.95"/>
<circle cx="466.6" cy="95.7" r="0.95"/>
<circle cx="466.2" cy="98.6" r="0.95"/>
<circle cx="465.5" cy="109.9" r="0.95"/>
<circle cx="465.6" cy="112.3" r="0.95"/>
<circle cx="465.7" cy="114.7" r="0.95"/>
<circle cx="465.8" cy="117.0" r="0.95"/>
<circle cx="465.9" cy="119.4" r="0.95"/>
<circle cx="465.9" cy="121.8" r="0.95"/>
<circle cx="466.0" cy="124.2" r="0.95"/>
<circle cx="466.1" cy="126.6" r="0.95"/>
<circle cx="466.2" cy="128.9" r="0.95"/>
<circle cx="466.3" cy="131.3" r="0.95"/>
<circle cx="466.4" cy="133.7" r="0.95"/>
<circle cx="354.3" cy="100.0" r="0.95"/>
<circle cx="354.3" cy="105.0" r="0.95"/>
<circle cx="339.6" cy="100.0" r="0.95"/>
<circle cx="339.6" cy="105.7" r="0.95"/>
<circle cx="320.4" cy="91.0" r="0.95"/>
<circle cx="321.9" cy="95.1" r="0.95"/>
<circle cx="320.4" cy="100.2" r="0.95"/>
<circle cx="323.2" cy="103.5" r="0.95"/>
<circle cx="324.9" cy="106.9" r="0.95"/>
<circle cx="457.3" cy="99.4" r="0.95"/>
<circle cx="505.5" cy="124.6" r="0.95"/>
<circle cx="504.3" cy="128.7" r="0.95"/>
<circle cx="343.0" cy="168.0" r="0.95"/>
<circle cx="344.3" cy="172.0" r="0.95"/>
<circle cx="358.6" cy="169.8" r="0.95"/>
<circle cx="359.8" cy="174.2" r="0.95"/>
<circle cx="483.0" cy="159.7" r="0.95"/>
<circle cx="482.2" cy="163.0" r="0.95"/>
<circle cx="481.7" cy="166.3" r="0.95"/>
<circle cx="481.3" cy="169.2" r="0.95"/>
<circle cx="477.2" cy="177.4" r="0.95"/>
<circle cx="476.4" cy="180.7" r="0.95"/>
<circle cx="476.2" cy="179.6" r="0.95"/>
<circle cx="475.6" cy="177.0" r="0.95"/>
<circle cx="426.2" cy="190.5" r="0.95"/>
<circle cx="426.8" cy="193.4" r="0.95"/>
<circle cx="426.5" cy="178.4" r="0.95"/>
<circle cx="427.6" cy="179.4" r="0.95"/>
<circle cx="436.3" cy="178.4" r="0.95"/>
<circle cx="437.4" cy="179.4" r="0.95"/>
<circle cx="438.6" cy="140.4" r="0.95"/>
<circle cx="440.6" cy="142.2" r="0.95"/>
<circle cx="438.6" cy="102.0" r="0.95"/>
<circle cx="439.6" cy="104.3" r="0.95"/>
<circle cx="440.6" cy="106.4" r="0.95"/>
<circle cx="333.7" cy="117.2" r="0.95"/>
<circle cx="331.9" cy="118.0" r="0.95"/>
<circle cx="331.9" cy="116.4" r="0.95"/>
<circle cx="331.6" cy="116.8" r="0.95"/>
<circle cx="331.8" cy="116.5" r="0.95"/>
<circle cx="392.8" cy="98.3" r="0.95"/>
<circle cx="397.1" cy="98.2" r="0.95"/>
<circle cx="397.1" cy="99.1" r="0.95"/>
<circle cx="390.1" cy="97.5" r="0.95"/>
<circle cx="392.2" cy="96.8" r="0.95"/>
<circle cx="393.4" cy="97.8" r="0.95"/>
<circle cx="390.9" cy="97.2" r="0.95"/>
<circle cx="396.8" cy="98.8" r="0.95"/>
<circle cx="396.4" cy="98.9" r="0.95"/>
<circle cx="397.0" cy="98.1" r="0.95"/>
<circle cx="411.2" cy="100.8" r="0.95"/>
<circle cx="407.4" cy="102.4" r="0.95"/>
<circle cx="406.4" cy="103.1" r="0.95"/>
<circle cx="411.4" cy="100.2" r="0.95"/>
<circle cx="410.8" cy="102.0" r="0.95"/>
<circle cx="421.0" cy="106.9" r="0.95"/>
<circle cx="424.1" cy="101.9" r="0.95"/>
<circle cx="415.2" cy="108.2" r="0.95"/>
<circle cx="417.9" cy="103.7" r="0.95"/>
<circle cx="422.7" cy="101.8" r="0.95"/>
<circle cx="423.6" cy="104.9" r="0.95"/>
<circle cx="415.3" cy="109.1" r="0.95"/>
<circle cx="420.3" cy="100.8" r="0.95"/>
<circle cx="422.9" cy="107.7" r="0.95"/>
<circle cx="421.9" cy="106.5" r="0.95"/>
<circle cx="424.4" cy="100.1" r="0.95"/>
<circle cx="424.2" cy="106.4" r="0.95"/>
<circle cx="417.1" cy="106.1" r="0.95"/>
<circle cx="417.9" cy="106.4" r="0.95"/>
<circle cx="421.6" cy="105.2" r="0.95"/>
<circle cx="415.6" cy="103.9" r="0.95"/>
<circle cx="417.6" cy="107.4" r="0.95"/>
<circle cx="423.8" cy="107.7" r="0.95"/>
<circle cx="419.9" cy="101.7" r="0.95"/>
<circle cx="421.6" cy="102.6" r="0.95"/>
<circle cx="424.5" cy="101.7" r="0.95"/>
<circle cx="424.2" cy="100.1" r="0.95"/>
<circle cx="422.3" cy="103.4" r="0.95"/>
<circle cx="420.3" cy="104.1" r="0.95"/>
<circle cx="417.6" cy="104.3" r="0.95"/>
<circle cx="422.7" cy="103.5" r="0.95"/>
<circle cx="418.2" cy="107.7" r="0.95"/>
<circle cx="416.4" cy="103.5" r="0.95"/>
<circle cx="419.7" cy="105.1" r="0.95"/>
<circle cx="416.3" cy="107.6" r="0.95"/>
<circle cx="415.2" cy="103.4" r="0.95"/>
<circle cx="418.5" cy="105.4" r="0.95"/>
<circle cx="416.4" cy="103.5" r="0.95"/>
<circle cx="417.0" cy="105.5" r="0.95"/>
<circle cx="416.2" cy="105.4" r="0.95"/>
<circle cx="421.1" cy="104.1" r="0.95"/>
<circle cx="419.8" cy="104.9" r="0.95"/>
<circle cx="418.5" cy="106.4" r="0.95"/>
<circle cx="416.0" cy="103.2" r="0.95"/>
<circle cx="423.5" cy="105.2" r="0.95"/>
<circle cx="416.8" cy="104.2" r="0.95"/>
<circle cx="418.1" cy="106.2" r="0.95"/>
<circle cx="417.0" cy="103.9" r="0.95"/>
<circle cx="420.2" cy="105.2" r="0.95"/>
<circle cx="423.5" cy="106.5" r="0.95"/>
<circle cx="418.3" cy="104.0" r="0.95"/>
<circle cx="422.4" cy="106.8" r="0.95"/>
<circle cx="415.2" cy="105.2" r="0.95"/>
<circle cx="422.8" cy="105.8" r="0.95"/>
<circle cx="416.9" cy="105.6" r="0.95"/>
<circle cx="421.7" cy="104.3" r="0.95"/>
<circle cx="420.9" cy="104.3" r="0.95"/>
<circle cx="415.4" cy="104.1" r="0.95"/>
<circle cx="418.0" cy="104.5" r="0.95"/>
<circle cx="420.7" cy="106.1" r="0.95"/>
<circle cx="401.0" cy="129.6" r="0.95"/>
<circle cx="402.1" cy="129.9" r="0.95"/>
<circle cx="401.0" cy="131.8" r="0.95"/>
<circle cx="401.7" cy="130.1" r="0.95"/>
<circle cx="437.5" cy="134.5" r="0.95"/>
<circle cx="437.3" cy="136.7" r="0.95"/>
<circle cx="437.1" cy="138.8" r="0.95"/>
<circle cx="436.9" cy="141.0" r="0.95"/>
<circle cx="441.5" cy="134.5" r="0.95"/>
<circle cx="441.3" cy="136.7" r="0.95"/>
<circle cx="441.1" cy="138.8" r="0.95"/>
<circle cx="440.9" cy="141.0" r="0.95"/>
<circle cx="445.8" cy="134.5" r="0.95"/>
<circle cx="445.6" cy="136.7" r="0.95"/>
<circle cx="445.4" cy="138.8" r="0.95"/>
<circle cx="445.2" cy="141.0" r="0.95"/>
<circle cx="417.1" cy="124.2" r="0.95"/>
<circle cx="422.5" cy="123.8" r="0.95"/>
<circle cx="416.4" cy="124.2" r="0.95"/>
<circle cx="414.7" cy="127.8" r="0.95"/>
<circle cx="409.1" cy="124.7" r="0.95"/>
<circle cx="411.3" cy="124.2" r="0.95"/>
<circle cx="425.3" cy="124.1" r="0.95"/>
<circle cx="418.2" cy="124.6" r="0.95"/>
<circle cx="420.4" cy="124.7" r="0.95"/>
<circle cx="410.3" cy="124.7" r="0.95"/>
<circle cx="414.6" cy="126.7" r="0.95"/>
<circle cx="417.4" cy="123.3" r="0.95"/>
<circle cx="419.4" cy="123.9" r="0.95"/>
<circle cx="416.5" cy="123.5" r="0.95"/>
<circle cx="414.6" cy="126.7" r="0.95"/>
<circle cx="416.5" cy="126.5" r="0.95"/>
<circle cx="420.9" cy="125.5" r="0.95"/>
<circle cx="418.9" cy="124.5" r="0.95"/>
<circle cx="418.4" cy="126.6" r="0.95"/>
<circle cx="409.0" cy="127.5" r="0.95"/>
<circle cx="413.8" cy="123.0" r="0.95"/>
<circle cx="409.9" cy="124.1" r="0.95"/>
<circle cx="408.5" cy="124.5" r="0.95"/>
<circle cx="414.7" cy="125.9" r="0.95"/>
<circle cx="415.6" cy="127.5" r="0.95"/>
<circle cx="419.1" cy="124.0" r="0.95"/>
<circle cx="423.0" cy="126.2" r="0.95"/>
<circle cx="424.7" cy="126.4" r="0.95"/>
<circle cx="424.7" cy="123.4" r="0.95"/>
<circle cx="412.2" cy="127.7" r="0.95"/>
<circle cx="407.6" cy="127.5" r="0.95"/>
<circle cx="423.7" cy="123.0" r="0.95"/>
<circle cx="409.9" cy="127.4" r="0.95"/>
<circle cx="424.6" cy="127.2" r="0.95"/>
<circle cx="420.3" cy="126.5" r="0.95"/>
<circle cx="412.8" cy="122.2" r="0.95"/>
<circle cx="418.6" cy="127.2" r="0.95"/>
<circle cx="424.4" cy="125.1" r="0.95"/>
<circle cx="407.4" cy="123.2" r="0.95"/>
<circle cx="415.3" cy="123.5" r="0.95"/>
<circle cx="424.5" cy="222.3" r="0.95"/>
<circle cx="428.6" cy="222.3" r="0.95"/>
<circle cx="424.5" cy="225.3" r="0.95"/>
<circle cx="428.6" cy="225.3" r="0.95"/>
</g>
<rect x="381" y="77" width="10.10" height="30.00" fill="none" stroke="#ff4a4a" stroke-width="1.2"/>
<rect x="413.5" y="84.2" width="9.90" height="29.80" fill="none" stroke="#ff4a4a" stroke-width="1.2"/>
<rect x="460.2" y="104" width="9.70" height="30.10" fill="none" stroke="#ff4a4a" stroke-width="1.2"/>
<rect x="500.9" y="110" width="10.00" height="29.80" fill="none" stroke="#ff4a4a" stroke-width="1.2"/>
<rect x="413.5" y="138.5" width="9.90" height="28.60" fill="none" stroke="#ff4a4a" stroke-width="1.2"/>
<rect x="381.7" y="180.2" width="13.40" height="30.30" fill="none" stroke="#ff4a4a" stroke-width="1.2"/>
<ellipse cx="346.25" cy="35" rx="37.75" ry="23.3" fill="none" stroke="#4a8fe0" stroke-width="1.3"/>
<ellipse cx="474.2" cy="27.5" rx="37.5" ry="22.8" fill="none" stroke="#4a8fe0" stroke-width="1.3"/>
<ellipse cx="448.5" cy="77.2" rx="5.9" ry="14.8" fill="none" stroke="#4a8fe0" stroke-width="1.3"/>
<ellipse cx="486.8" cy="87.6" rx="6" ry="15.4" fill="none" stroke="#4a8fe0" stroke-width="1.3"/>
</svg>
</body></html>
